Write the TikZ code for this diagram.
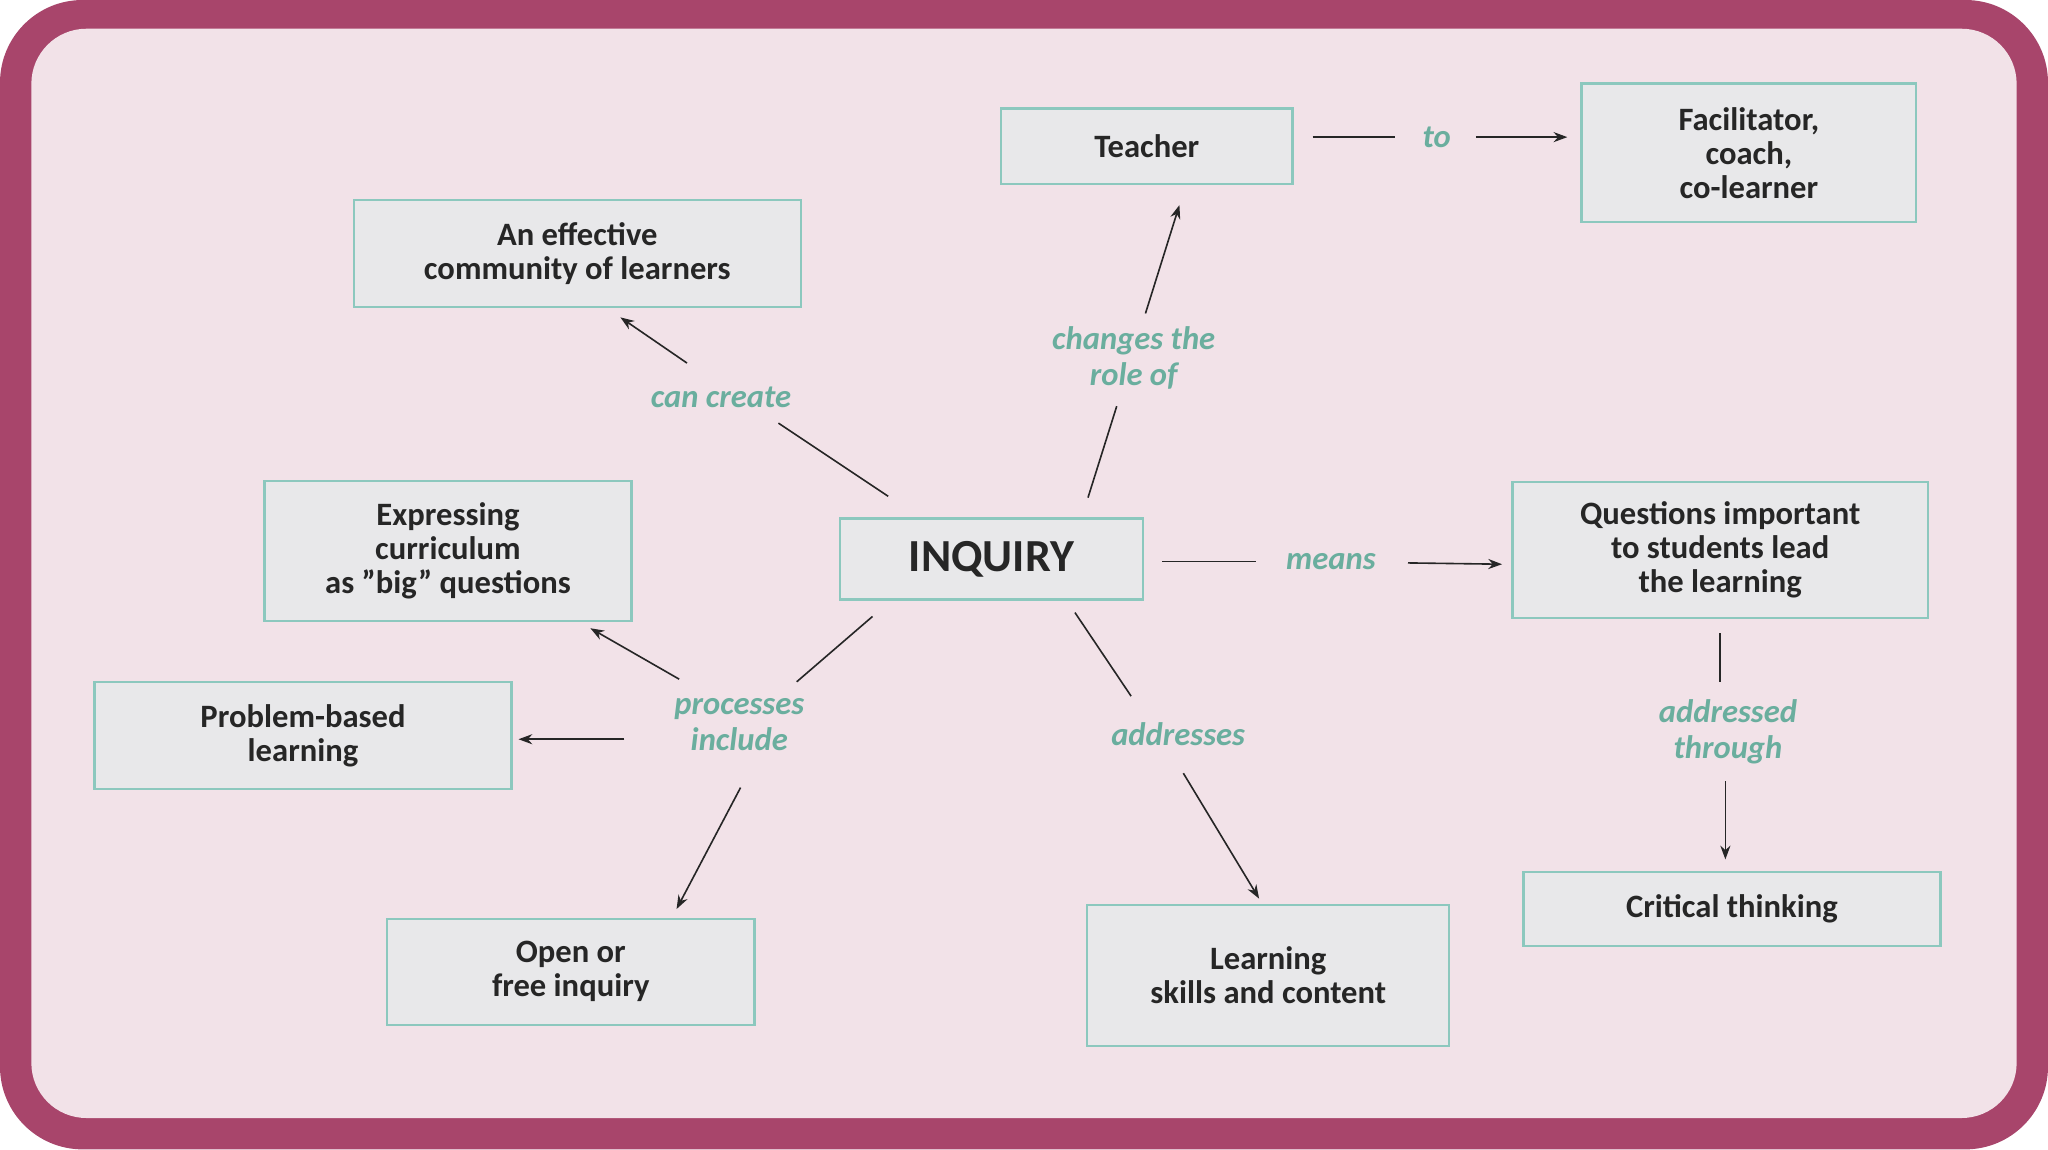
\documentclass[tikz,border=0pt]{standalone}
\usepackage{fontspec}
\setmainfont{Carlito}
\usetikzlibrary{arrows.meta}
\definecolor{frame}{HTML}{A8456B}
\definecolor{bg}{HTML}{F2E2E8}
\definecolor{boxfill}{HTML}{E8E8EA}
\definecolor{boxline}{HTML}{8CC8BE}
\definecolor{lbl}{HTML}{6AAE9E}
\begin{document}
\begin{tikzpicture}[x=0.01cm,y=-0.01cm,
  box/.style={draw=boxline,line width=0.5pt,fill=boxfill,inner sep=0pt,align=center,font=\bfseries\fontsize{7.1}{7.4}\selectfont,text=black!85},
  lab/.style={text=lbl,font=\bfseries\itshape\fontsize{7.1}{7.8}\selectfont,align=center,inner sep=1pt},
  con/.style={line width=0.35pt,black!85},
  arr/.style={con,-{Stealth[length=3pt,width=2.2pt]}}]
\useasboundingbox (0,0) rectangle (1568,880);
\fill[frame,rounded corners=18] (0,0) rectangle (1568,880);
\fill[bg,rounded corners=12] (24,22) rectangle (1544,856);
% boxes
\node[box,minimum width=2.23cm,minimum height=0.58cm] (teacher) at (878,112) {Teacher};
\node[box,minimum width=2.56cm,minimum height=1.06cm] (fac) at (1339,117) {Facilitator,\\coach,\\co-learner};
\node[box,minimum width=3.42cm,minimum height=0.82cm] (comm) at (442,194) {An effective\\community of learners};
\node[box,minimum width=2.81cm,minimum height=1.07cm] (expr) at (343,422) {Expressing\\curriculum\\as \char34 big\char34{} questions};
\node[box,minimum width=2.32cm,minimum height=0.62cm,font=\bfseries\fontsize{10}{11}\selectfont] (inq) at (759,428) {INQUIRY};
\node[box,minimum width=3.18cm,minimum height=1.04cm] (quest) at (1317,421) {Questions important\\to students lead\\the learning};
\node[box,minimum width=3.19cm,minimum height=0.82cm] (prob) at (232,563) {Problem-based\\learning};
\node[box,minimum width=2.81cm,minimum height=0.81cm] (open) at (437,744) {Open or\\free inquiry};
\node[box,minimum width=2.77cm,minimum height=1.08cm] (learn) at (971,747) {Learning\\skills and content};
\node[box,minimum width=3.19cm,minimum height=0.57cm] (crit) at (1326,696) {Critical thinking};
% labels
\node[lab] (lcan) at (552,304) {can create};
\node[lab] (lchg) at (868,274) {changes the\\role of};
\node[lab] (lto) at (1100,105) {to};
\node[lab] (lmeans) at (1019,430) {means};
\node[lab] (laddr) at (1323,560) {addressed\\through};
\node[lab] (ladd) at (902,562) {addresses};
\node[lab] (lproc) at (566,555) {processes\\include};
% coordinates
\coordinate (c1a) at (680,380); \coordinate (c1b) at (596,324);
\coordinate (c1c) at (526,278); \coordinate (c1d) at (475,243);
\coordinate (c2a) at (833,381); \coordinate (c2b) at (855,311);
\coordinate (c2c) at (877,240); \coordinate (c2d) at (903,157);
\coordinate (c3a) at (1005,105); \coordinate (c3b) at (1068,105);
\coordinate (c3c) at (1130,105); \coordinate (c3d) at (1200,105);
\coordinate (c4a) at (890,430); \coordinate (c4b) at (962,430);
\coordinate (c4c) at (1078,431); \coordinate (c4d) at (1150,432);
\coordinate (c5a) at (1317,485); \coordinate (c5b) at (1317,522);
\coordinate (c5c) at (1321,598); \coordinate (c5d) at (1321,658);
\coordinate (c6a) at (823,469); \coordinate (c6b) at (866,533);
\coordinate (c6c) at (906,592); \coordinate (c6d) at (964,688);
\coordinate (c7a) at (668,472); \coordinate (c7b) at (610,522);
\coordinate (c8a) at (520,520); \coordinate (c8b) at (452,481);
\coordinate (c9a) at (478,566); \coordinate (c9b) at (397,566);
\coordinate (c10a) at (567,603); \coordinate (c10b) at (518,696);
\draw[con] (c1a)--(c1b); \draw[arr] (c1c)--(c1d);
\draw[con] (c2a)--(c2b); \draw[arr] (c2c)--(c2d);
\draw[con] (c3a)--(c3b); \draw[arr] (c3c)--(c3d);
\draw[con] (c4a)--(c4b); \draw[arr] (c4c)--(c4d);
\draw[con] (c5a)--(c5b); \draw[arr] (c5c)--(c5d);
\draw[con] (c6a)--(c6b); \draw[arr] (c6c)--(c6d);
\draw[con] (c7a)--(c7b);
\draw[arr] (c8a)--(c8b);
\draw[arr] (c9a)--(c9b);
\draw[arr] (c10a)--(c10b);
\end{tikzpicture}
\end{document}
